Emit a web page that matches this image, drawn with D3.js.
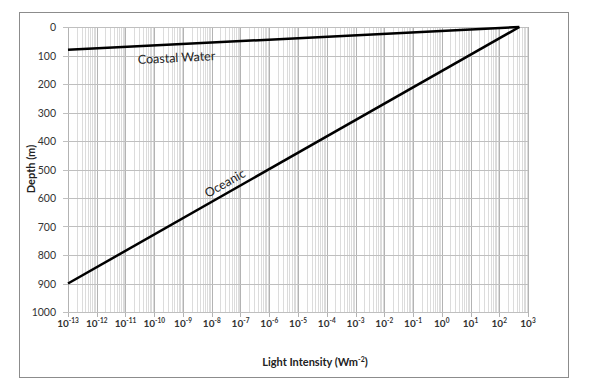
<!DOCTYPE html>
<html>
<head>
<meta charset="utf-8">
<script src="https://cdn.jsdelivr.net/npm/d3@7"></script>
<style>
  html, body { margin: 0; padding: 0; background: #fff; }
  svg { display: block; font-family: Lato, "Open Sans", sans-serif; }
</style>
</head>
<body>
<svg id="chart"></svg>
<script>
// ==============================
// DATA
// ==============================
const decadeExponents = d3.range(-13, 4);            // tick labels 10^-13 .. 10^3
const depthTicks = d3.range(0, 1001, 100);

const coastalIntensity = [1e-13, 500];
const coastalDepth = [80, 0];

const oceanicIntensity = [1e-13, 500];
const oceanicDepth = [900, 0];

const seriesLabels = ["Coastal Water", "Oceanic"];

// ==============================
// SIZE
// ==============================
const width = 610;
const height = 391;

const svg = d3.select("#chart")
  .attr("width", width)
  .attr("height", height)
  .attr("viewBox", `0 0 ${width} ${height}`);

// outer chart border
svg.append("rect")
  .attr("x", 19.5)
  .attr("y", 12.5)
  .attr("width", 549)
  .attr("height", 365)
  .attr("fill", "#fff")
  .attr("stroke", "#8c8c8c")
  .attr("stroke-width", 1);

const x = d3.scaleLog()
  .domain([1e-13, 1e3])
  .range([68, 528]);

const y = d3.scaleLinear()
  .domain([0, 1000])
  .range([27, 312]);

// ==============================
// GRIDLINES
// ==============================
const grid = svg.append("g").attr("shape-rendering", "crispEdges");

const minorValues = [];
decadeExponents.slice(0, -1).forEach(e => {
  for (let k = 2; k <= 9; k++) minorValues.push(k * Math.pow(10, e));
});

grid.selectAll(".minor")
  .data(minorValues)
  .join("line")
  .attr("x1", d => Math.round(x(d)) + 0.5)
  .attr("x2", d => Math.round(x(d)) + 0.5)
  .attr("y1", y(0))
  .attr("y2", y(1000))
  .attr("stroke", "#dcdcdc")
  .attr("stroke-width", 1);

grid.selectAll(".major")
  .data(decadeExponents)
  .join("line")
  .attr("x1", d => Math.round(x(Math.pow(10, d))) + 0.5)
  .attr("x2", d => Math.round(x(Math.pow(10, d))) + 0.5)
  .attr("y1", y(0))
  .attr("y2", y(1000) + 5)
  .attr("stroke", "#b3b3b3")
  .attr("stroke-width", 1);

grid.selectAll(".hgrid")
  .data(depthTicks)
  .join("line")
  .attr("x1", x.range()[0] - 5)
  .attr("x2", x.range()[1])
  .attr("y1", d => Math.round(y(d)) + 0.5)
  .attr("y2", d => Math.round(y(d)) + 0.5)
  .attr("stroke", "#bfbfbf")
  .attr("stroke-width", 1);

// ==============================
// AXIS LABELS
// ==============================
svg.append("g")
  .selectAll("text")
  .data(depthTicks)
  .join("text")
  .attr("x", 56)
  .attr("y", d => y(d) + 4)
  .attr("text-anchor", "end")
  .attr("font-size", "10.5px")
  .attr("fill", "#333")
  .text(d => d);

const xLabels = svg.append("g")
  .selectAll("text")
  .data(decadeExponents)
  .join("text")
  .attr("x", d => x(Math.pow(10, d)))
  .attr("y", 327)
  .attr("text-anchor", "middle")
  .attr("font-size", "10px")
  .attr("font-weight", "700")
  .attr("fill", "#333");

xLabels.append("tspan").text("10");
xLabels.append("tspan")
  .attr("dy", -4)
  .attr("font-size", "6.5px")
  .text(d => d);

svg.append("text")
  .attr("transform", "translate(35, 169) rotate(-90)")
  .attr("text-anchor", "middle")
  .attr("font-size", "11px")
  .attr("font-weight", "700")
  .attr("fill", "#222")
  .text("Depth (m)");

const xTitle = svg.append("text")
  .attr("x", 315)
  .attr("y", 366)
  .attr("text-anchor", "middle")
  .attr("font-size", "11px")
  .attr("font-weight", "700")
  .attr("fill", "#222");
xTitle.append("tspan").text("Light Intensity (Wm");
xTitle.append("tspan").attr("dy", -4).attr("font-size", "7px").text("-2");
xTitle.append("tspan").attr("dy", 4).text(")");

// ==============================
// SERIES LINES
// ==============================
const line = d3.line()
  .x(d => x(d[0]))
  .y(d => y(d[1]));

const series = [
  d3.zip(coastalIntensity, coastalDepth),
  d3.zip(oceanicIntensity, oceanicDepth)
];

svg.append("g")
  .selectAll("path")
  .data(series)
  .join("path")
  .attr("d", line)
  .attr("fill", "none")
  .attr("stroke", "#000")
  .attr("stroke-width", 2.5);

// ==============================
// IN-LINE SERIES LABELS
// ==============================
function angleOf(pts) {
  const dx = x(pts[1][0]) - x(pts[0][0]);
  const dy = y(pts[1][1]) - y(pts[0][1]);
  return Math.atan2(dy, dx) * 180 / Math.PI;
}

// coastal label sits under its line, oceanic label above its line
svg.append("text")
  .attr("transform", `translate(138, 64) rotate(${angleOf(series[0])})`)
  .attr("font-size", "12.5px")
  .attr("fill", "#222")
  .text(seriesLabels[0]);

svg.append("text")
  .attr("transform", `translate(227, 187) rotate(${angleOf(series[1])})`)
  .attr("text-anchor", "middle")
  .attr("font-size", "12.5px")
  .attr("fill", "#222")
  .text(seriesLabels[1]);
</script>
</body>
</html>
